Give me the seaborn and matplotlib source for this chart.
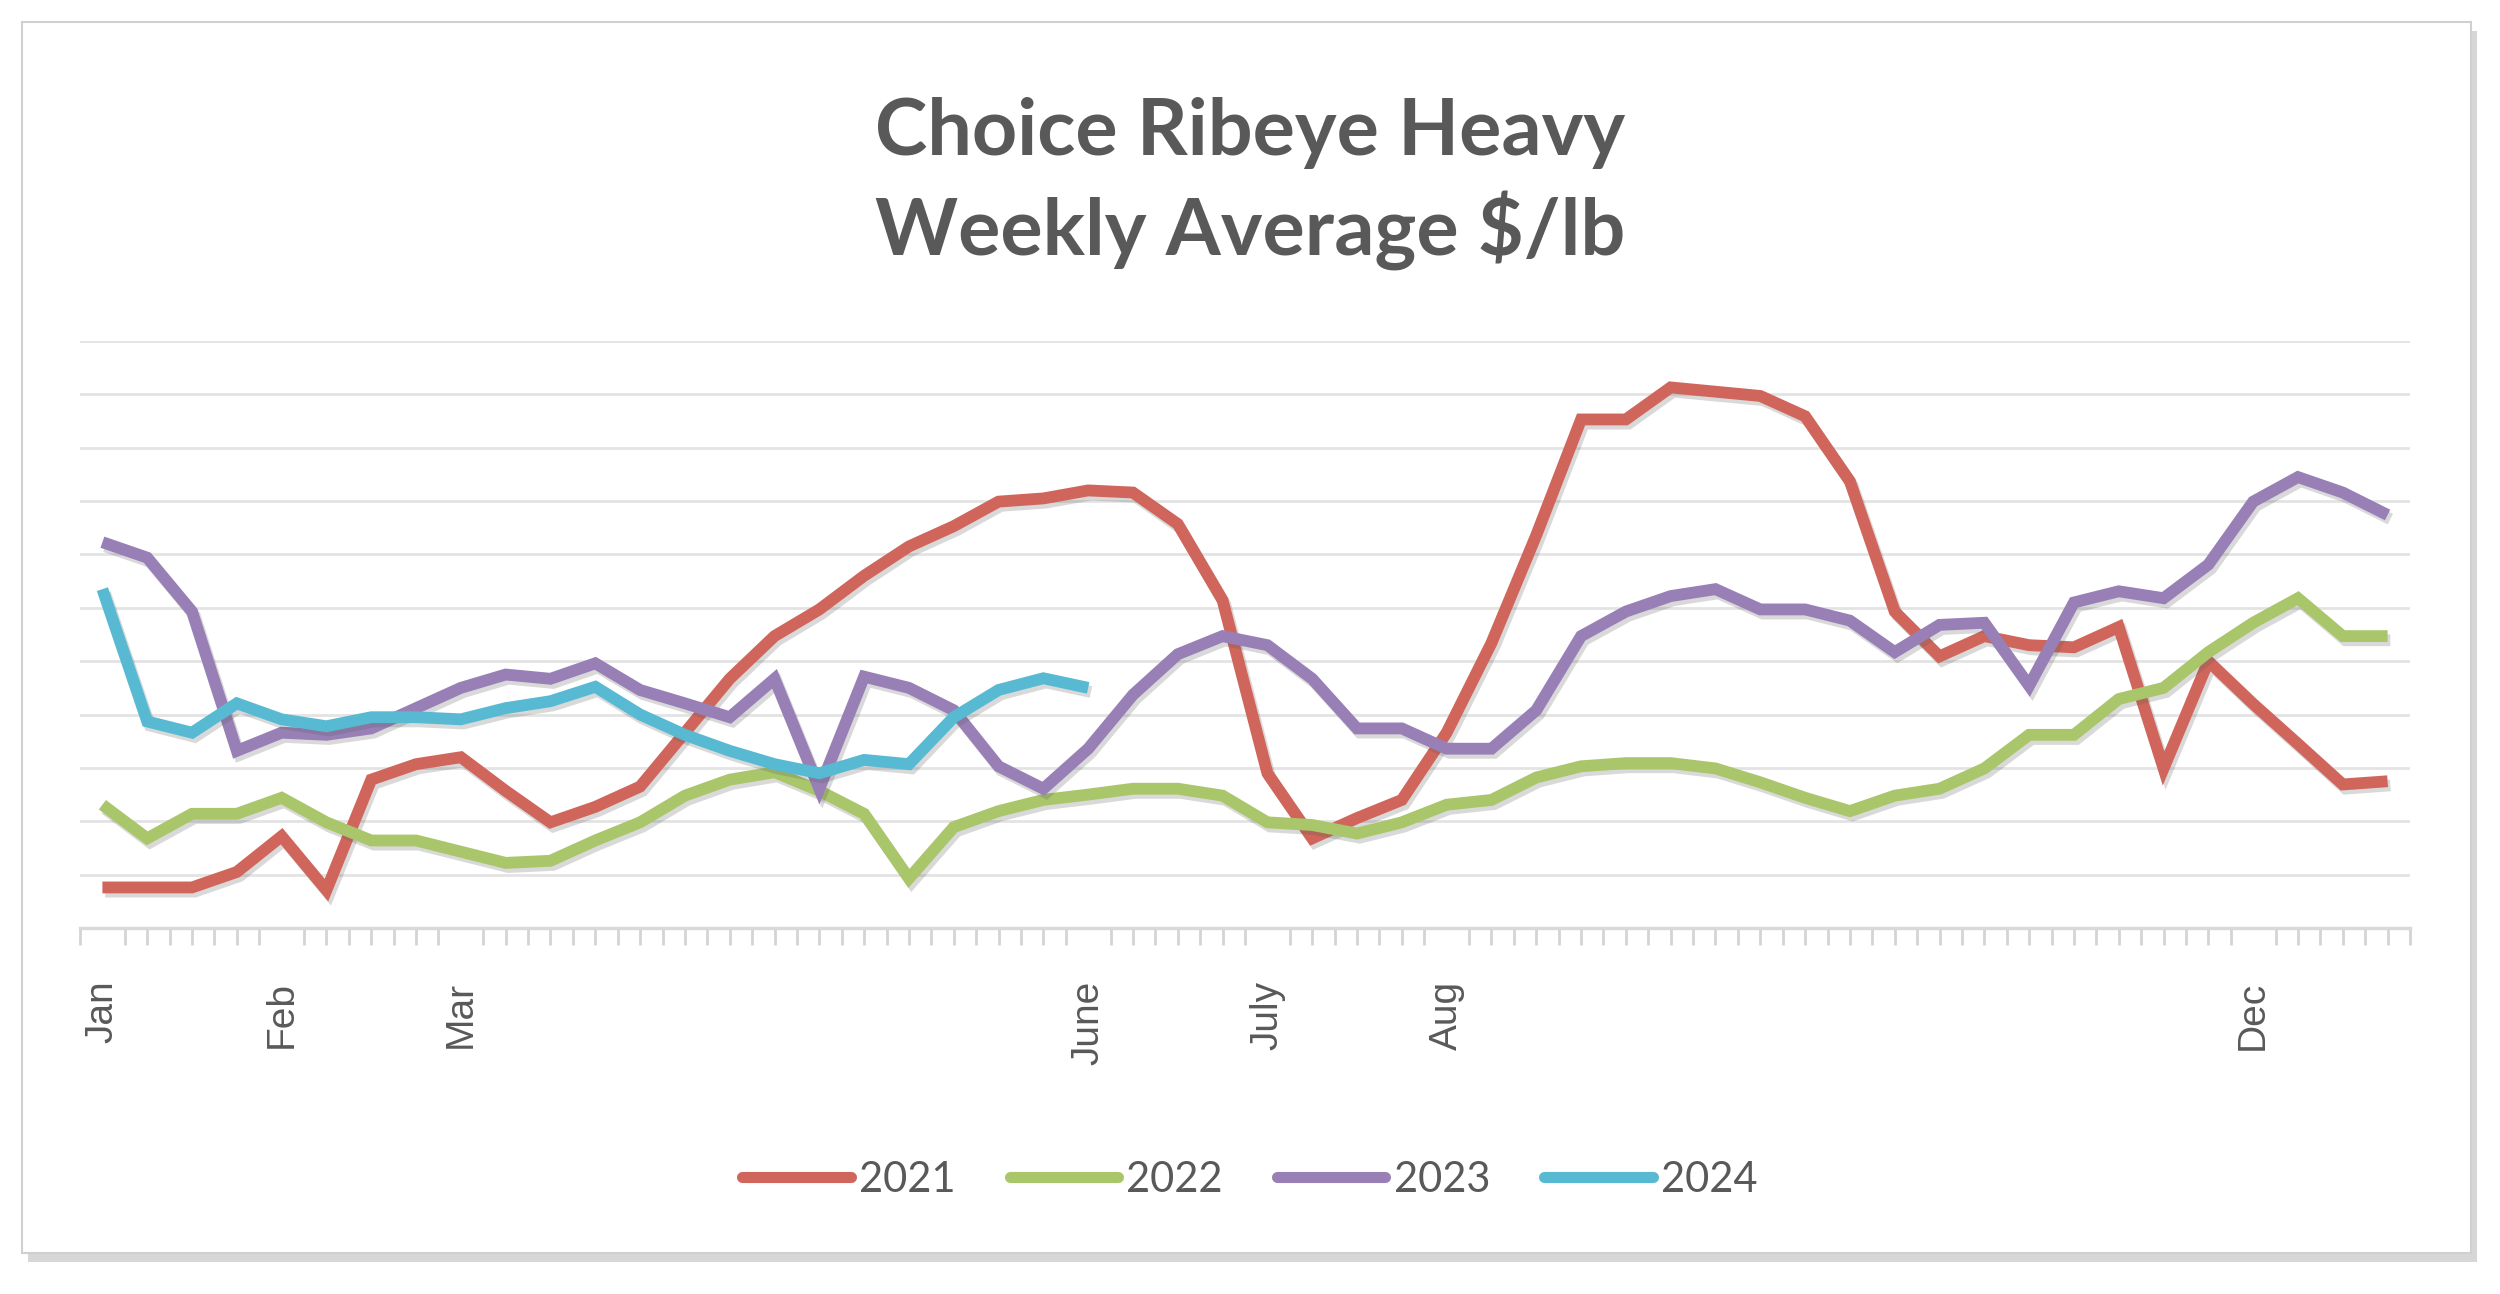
import numpy as np
import pandas as pd
import matplotlib
matplotlib.use('Agg')
import matplotlib.pyplot as plt
import matplotlib.patheffects as pe
from matplotlib.patches import Rectangle
import seaborn as sns

# weekly values in gridline units (axis = 0, top gridline = 11)
weeks = list(range(52))
y2021 = [0.76, 0.76, 0.76, 1.05, 1.72, 0.71, 2.78, 3.07, 3.20, 2.57,
         1.98, 2.27, 2.65, 3.66, 4.67, 5.47, 5.97, 6.60, 7.15, 7.53,
         7.99, 8.05, 8.20, 8.16, 7.57, 6.14, 2.90, 1.68, 2.06, 2.40,
         3.66, 5.34, 7.36, 9.53, 9.53, 10.13, 10.05, 9.97, 9.59, 8.37,
         5.93, 5.09, 5.47, 5.30, 5.26, 5.64, 2.99, 5.00, 4.20, 3.45,
         2.69, 2.75]
y2022 = [2.31, 1.68, 2.14, 2.14, 2.44, 1.98, 1.64, 1.64, 1.43, 1.22,
         1.26, 1.64, 1.98, 2.48, 2.78, 2.92, 2.57, 2.14, 0.93, 1.89,
         2.19, 2.40, 2.50, 2.61, 2.61, 2.48, 1.98, 1.93, 1.77, 1.98,
         2.31, 2.40, 2.82, 3.03, 3.09, 3.09, 2.99, 2.73, 2.44, 2.19,
         2.48, 2.61, 2.99, 3.62, 3.62, 4.29, 4.50, 5.17, 5.72, 6.18,
         5.47, 5.47]
y2023 = [7.23, 6.94, 5.93, 3.32, 3.66, 3.62, 3.74, 4.12, 4.50, 4.75,
         4.67, 4.96, 4.46, 4.21, 3.95, 4.67, 2.61, 4.71, 4.50, 4.08,
         3.03, 2.61, 3.36, 4.37, 5.13, 5.47, 5.30, 4.67, 3.74, 3.74,
         3.36, 3.36, 4.08, 5.47, 5.93, 6.22, 6.35, 5.97, 5.97, 5.76,
         5.17, 5.68, 5.72, 4.54, 6.10, 6.31, 6.18, 6.81, 7.99, 8.45,
         8.16, 7.74]
y2024 = [6.35, 3.87, 3.66, 4.21, 3.91, 3.78, 3.95, 3.95, 3.91, 4.12,
         4.25, 4.52, 4.00, 3.62, 3.32, 3.07, 2.90, 3.15, 3.07, 3.95,
         4.46, 4.68, 4.50]

years = ['2021', '2022', '2023', '2024']
colors = ['#D0665B', '#A9C66B', '#9880B7', '#58B9D3']
month_pos = [0, 4, 8, 22, 26, 30, 48]
month_labels = ['Jan', 'Feb', 'Mar', 'June', 'July', 'Aug', 'Dec']

frames = []
for yr, vals in zip(years, [y2021, y2022, y2023, y2024]):
    frames.append(pd.DataFrame({'week': weeks[:len(vals)], 'price': vals, 'year': yr}))
df = pd.concat(frames, ignore_index=True)

sns.set_style('white')
plt.rcParams['font.family'] = ['Lato', 'DejaVu Sans']

W, H = 2500, 1294
fig = plt.figure(figsize=(W / 100, H / 100), dpi=100)

# chart frame with a soft shadow
fig.patches.append(Rectangle((28 / W, 1 - 1262 / H), 2449 / W, 1231 / H, transform=fig.transFigure,
                             facecolor='#BDBDBD', edgecolor='none', alpha=0.6, zorder=0))
fig.patches.append(Rectangle((22 / W, 1 - 1253 / H), 2449 / W, 1231 / H, transform=fig.transFigure,
                             facecolor='white', edgecolor='#D0D0D0', lw=1.5, zorder=1))

ax = fig.add_axes([80 / W, 1 - 928 / H, 2330 / W, 587 / H])
ax.set_zorder(3)
ax.set_facecolor('none')

sns.lineplot(data=df, x='week', y='price', hue='year', palette=dict(zip(years, colors)),
             linewidth=8.5, ax=ax, legend=False, sort=False)
for line in ax.lines:
    line.set_solid_joinstyle('miter')
    line.set_solid_capstyle('butt')
    line.set_path_effects([pe.SimpleLineShadow(offset=(2, -3), alpha=0.22, shadow_color='#555555'),
                           pe.Normal()])

ax.set_xlim(-0.5, 51.5)
ax.set_ylim(0, 11)
ax.set_yticks(range(12))
ax.set_yticklabels([])
ax.tick_params(axis='y', length=0)
ax.yaxis.grid(True, color='#E3E3E3', lw=2)
ax.set_axisbelow(True)
for s in ['top', 'right', 'left']:
    ax.spines[s].set_visible(False)
ax.spines['bottom'].set_color('#D9D9D9')
ax.spines['bottom'].set_linewidth(2.5)

ax.set_xticks(month_pos)
ax.set_xticklabels(month_labels, rotation=90, fontsize=28, color='#595959',
                   family=['Liberation Sans', 'DejaVu Sans'], va='top')
ax.set_xticks(np.arange(-0.5, 51.51, 0.5), minor=True)
ax.tick_params(axis='x', which='major', bottom=True, length=0, pad=38)
ax.tick_params(axis='x', which='minor', bottom=True, length=12, width=2,
               color='#D4D4D4', direction='out')
ax.set_xlabel('')
ax.set_ylabel('')

fig.text(0.5, 1 - 155 / H, 'Choice Ribeye Heavy', ha='center', va='baseline',
         fontsize=57, fontweight='bold', color='#595959')
fig.text(0.5, 1 - 255 / H, 'Weekly Average $/lb', ha='center', va='baseline',
         fontsize=57, fontweight='bold', color='#595959')

handles = [plt.Line2D([], [], color=c, lw=8) for c in colors]
fig.legend(handles, years, loc='center', bbox_to_anchor=(0.5, 1 - 1180 / H), ncol=4,
           frameon=False, fontsize=30, handlelength=2.6, handletextpad=0.2,
           columnspacing=1.3, labelcolor='#595959')

fig.savefig('out.png', dpi=100)
